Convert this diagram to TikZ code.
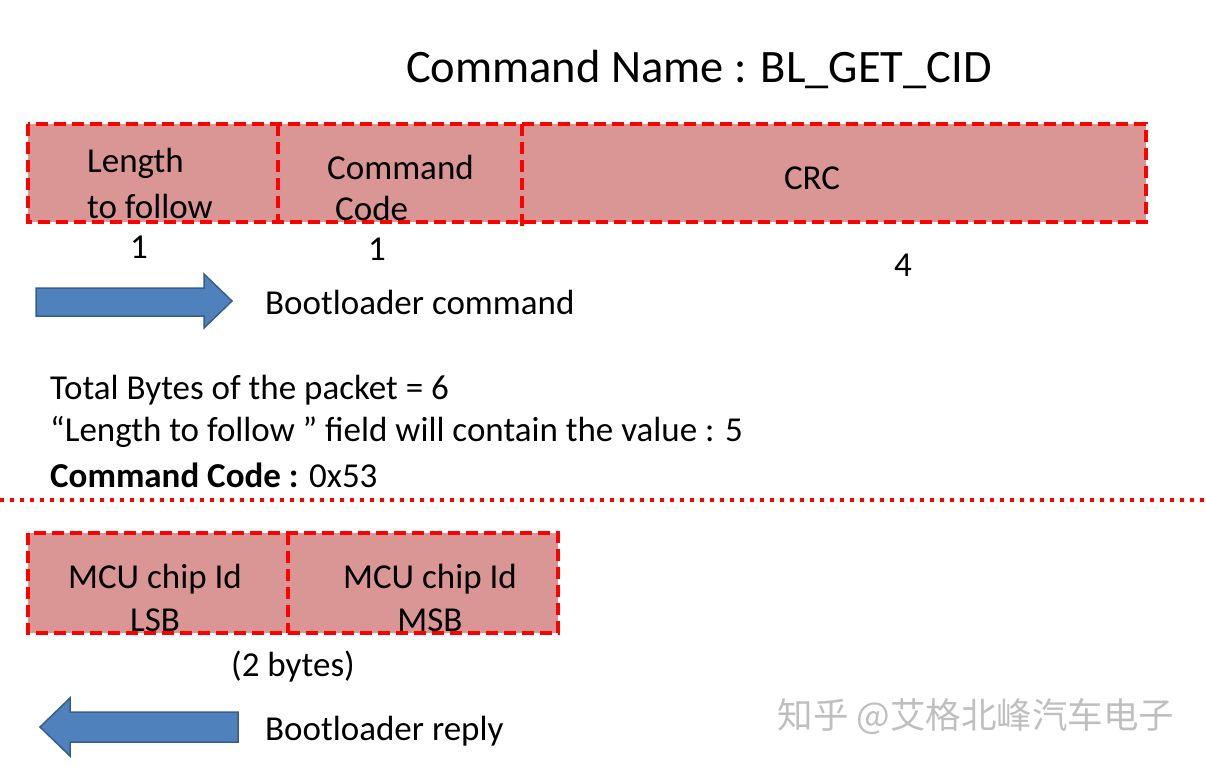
\documentclass[tikz,border=0pt]{standalone}
\usepackage{fontspec}
\setmainfont{Carlito}
\newfontfamily\cjk{Noto Sans CJK SC}
\usetikzlibrary{shapes.arrows}
\definecolor{fieldfill}{RGB}{217,150,148}
\definecolor{arrfill}{RGB}{79,129,189}
\definecolor{arrline}{RGB}{56,93,138}
\begin{document}
\begin{tikzpicture}[x=1pt,y=-1pt,
  field/.style={draw=red,fill=fieldfill,line width=4.5pt,dash pattern=on 12pt off 6pt},
  txt/.style={font=\fontsize{35}{40}\selectfont,inner sep=0pt},
  barrow/.style={fill=arrfill,draw=arrline,line width=1.5pt}]
\useasboundingbox (0,0) rectangle (1206,766);
\node[txt,font=\fontsize{46.5}{52}\selectfont] (title) at (699,69) {Command Name : BL\_GET\_CID};
\path[field] (28,124) rectangle (1146,222);
\draw[field] (278,124) -- (278,222);
\draw[field] (522,124) -- (522,230);
\node[txt,anchor=west] (l1) at (87,163) {Length};
\node[txt,anchor=west] (l2) at (87,206) {to follow};
\node[txt,anchor=west] (c1) at (327,167) {Command};
\node[txt,anchor=west] (c2) at (335,208) {Code};
\node[txt] (crc) at (812,178) {CRC};
\node[txt] (n1) at (139,247) {1};
\node[txt] (n2) at (377,249) {1};
\node[txt] (n3) at (903,265) {4};
\path[barrow] (36,288) -- (204,288) -- (204,274) -- (232,301) -- (204,328) -- (204,316) -- (36,316) -- cycle;
\node[txt,anchor=west] (bc) at (265,302) {Bootloader command};
\node[txt,anchor=west] (t1) at (50,390) {Total Bytes of the packet = 6};
\node[txt,anchor=west] (t2) at (50,432) {“Length to follow ” field will contain the value : 5};
\node[txt,anchor=west] (t3) at (50,475) {\textbf{Command Code :} 0x53};
\draw[red,line width=4pt,dash pattern=on 4pt off 6pt] (0,500) -- (1206,500);
\path[field] (28,533) rectangle (558,633);
\draw[field] (288,533) -- (288,633);
\node[txt] (m1) at (155,579) {MCU chip Id};
\node[txt] (m2) at (155,620) {LSB};
\node[txt] (m3) at (430,579) {MCU chip Id};
\node[txt] (m4) at (430,620) {MSB};
\node[txt] (bytes) at (293,667) {(2 bytes)};
\path[barrow] (238,712) -- (70,712) -- (70,698) -- (40,727) -- (70,756) -- (70,742) -- (238,742) -- cycle;
\node[txt,anchor=west] (br) at (265,731) {Bootloader reply};
\node[inner sep=0pt,text=black!25,font=\cjk\fontsize{35.5}{40}\selectfont] (wm) at (976,717) {知乎 @艾格北峰汽车电子};
\end{tikzpicture}
\end{document}
